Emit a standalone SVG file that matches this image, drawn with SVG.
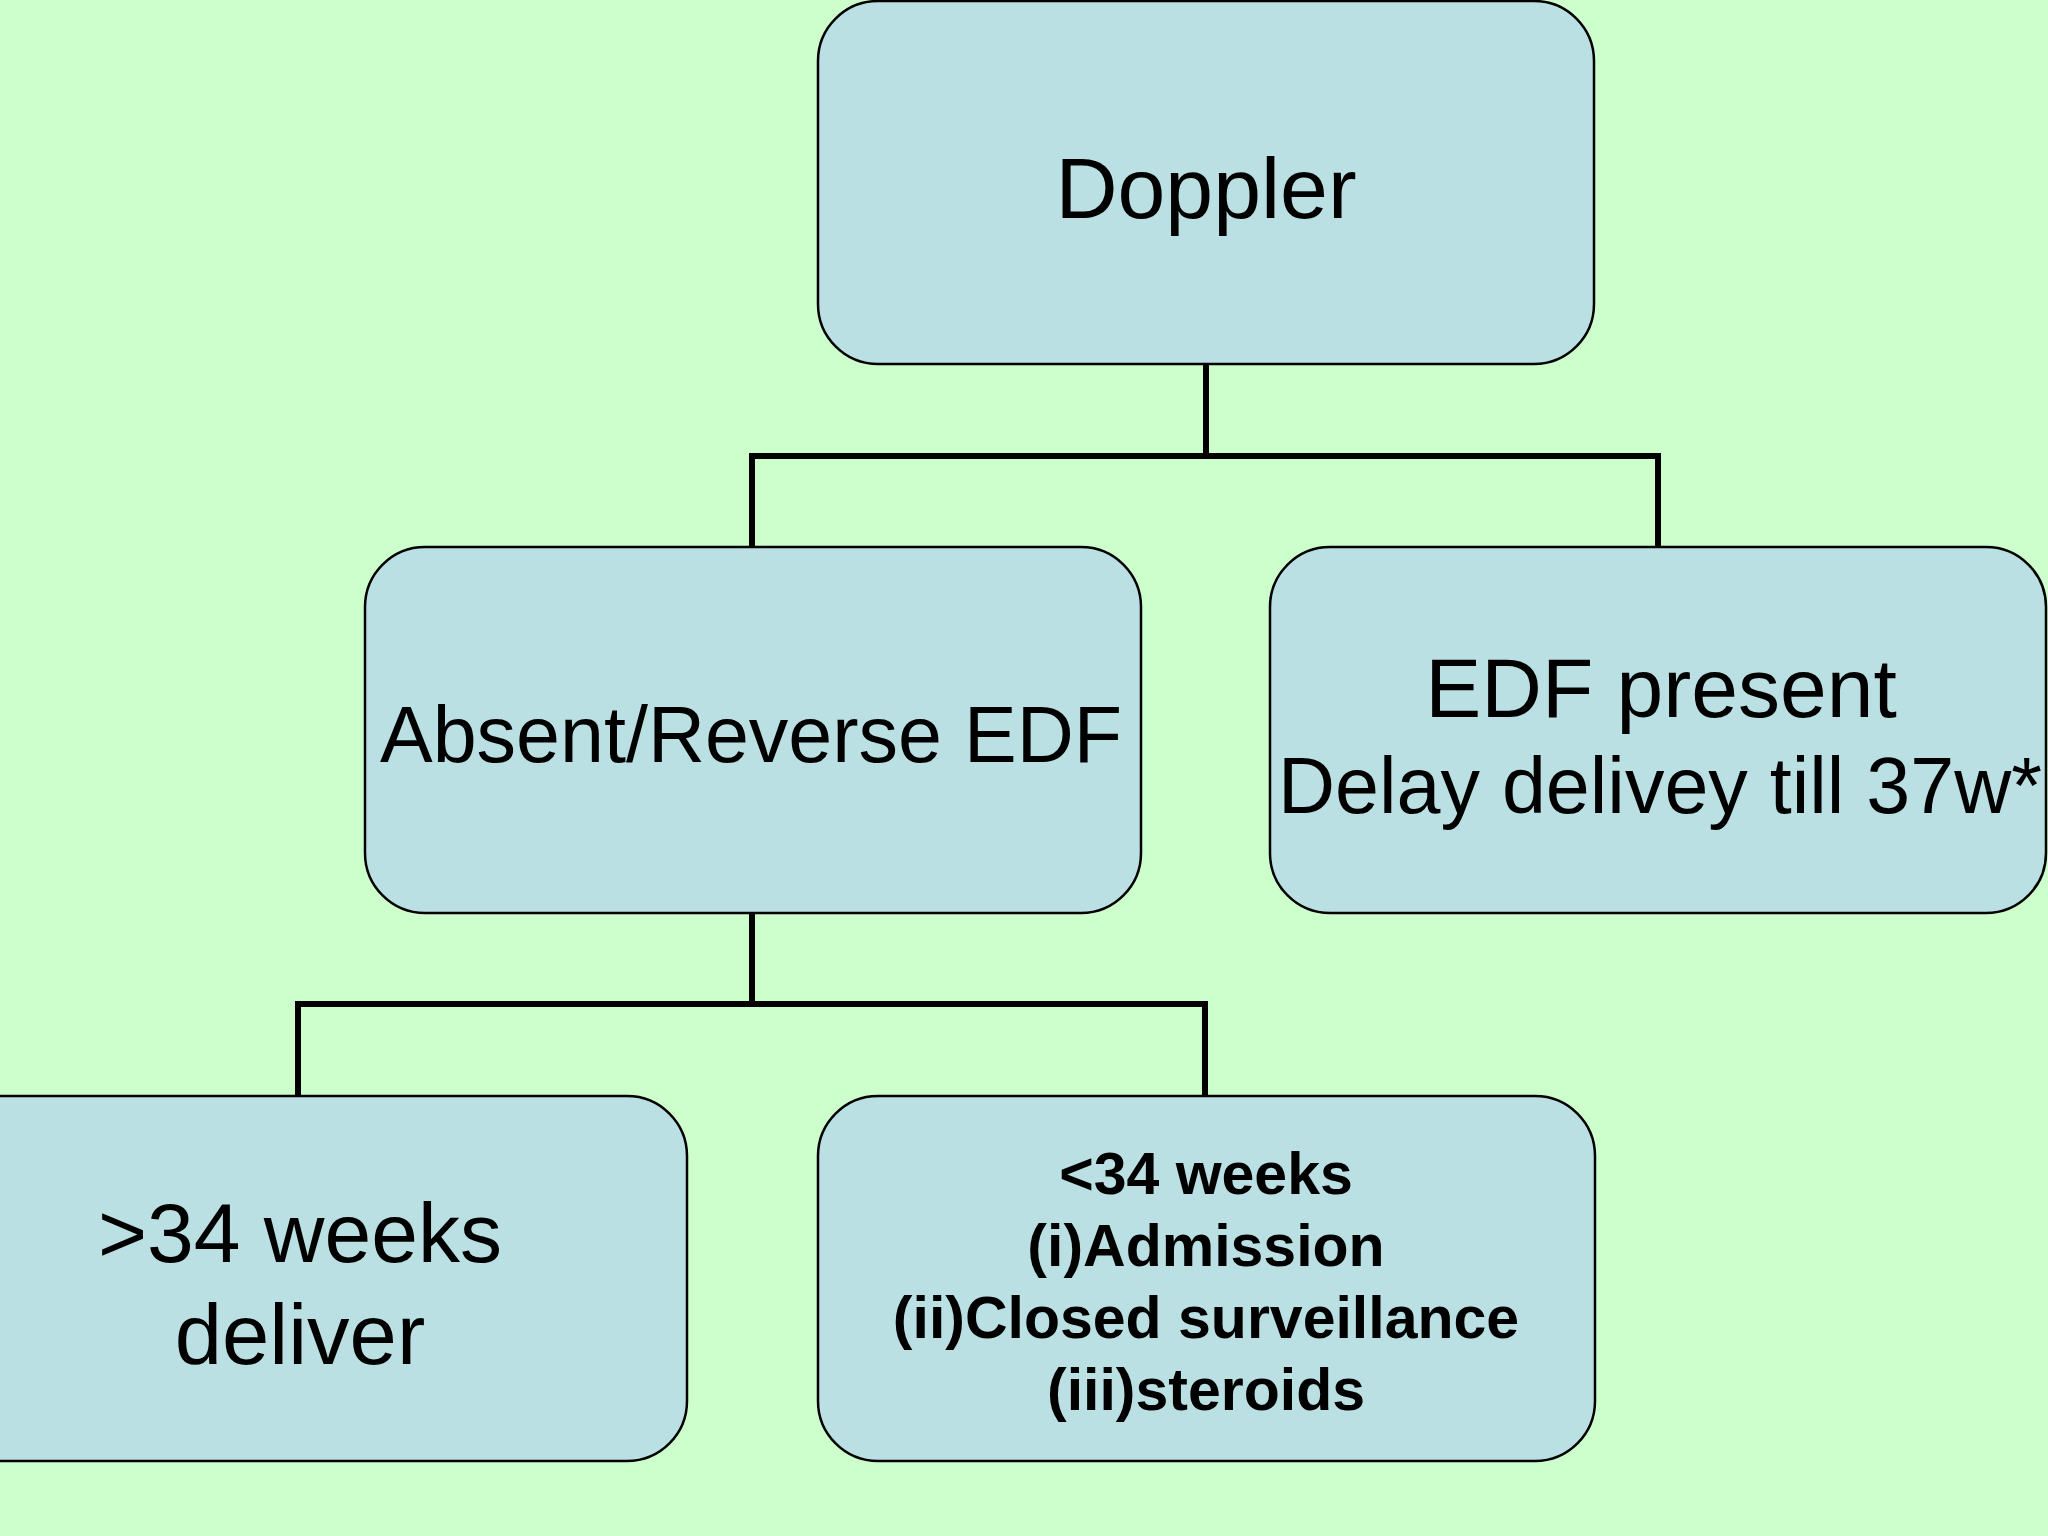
<svg xmlns="http://www.w3.org/2000/svg" width="2048" height="1536" viewBox="0 0 2048 1536">
<style>
.box{fill:#BBE0E3;stroke:#000;stroke-width:2.5}
.conn{fill:none;stroke:#000;stroke-width:6;stroke-linecap:butt;stroke-linejoin:miter}
.t{font-family:"Liberation Sans",Arial,sans-serif;fill:#000;text-anchor:middle}
.b{font-weight:bold}
</style>
<rect x="0" y="0" width="2048" height="1536" fill="#CCFFCC"/>
<g id="connectors">
<path class="conn" d="M1206,364 V456"/>
<path class="conn" d="M752,547 V456 H1658 V547"/>
<path class="conn" d="M752,913 V1004"/>
<path class="conn" d="M298,1096 V1004 H1205 V1096"/>
</g>
<g id="doppler">
<rect class="box" x="818" y="1" width="776" height="363" rx="60" ry="60"/>
<text class="t" x="1206" y="218" font-size="86">Doppler</text>
</g>
<g id="absent">
<rect class="box" x="365" y="547" width="776" height="366" rx="60" ry="60"/>
<text class="t" x="751" y="762" font-size="79">Absent/Reverse EDF</text>
</g>
<g id="edf-present">
<rect class="box" x="1270" y="547" width="776" height="366" rx="60" ry="60"/>
<text class="t" x="1661" y="717" font-size="84">EDF present</text>
<text class="t" x="1660" y="813" font-size="79">Delay delivey till 37w*</text>
</g>
<g id="over34">
<rect class="box" x="-90" y="1096" width="777" height="365" rx="60" ry="60"/>
<text class="t" x="300" y="1262" font-size="84">&gt;34 weeks</text>
<text class="t" x="300" y="1364" font-size="85">deliver</text>
</g>
<g id="under34">
<rect class="box" x="818" y="1096" width="777" height="365" rx="60" ry="60"/>
<text class="t b" x="1206" y="1194" font-size="59">&lt;34 weeks</text>
<text class="t b" x="1206" y="1266" font-size="59">(i)Admission</text>
<text class="t b" x="1206" y="1338" font-size="59">(ii)Closed surveillance</text>
<text class="t b" x="1206" y="1410" font-size="59">(iii)steroids</text>
</g>
</svg>
